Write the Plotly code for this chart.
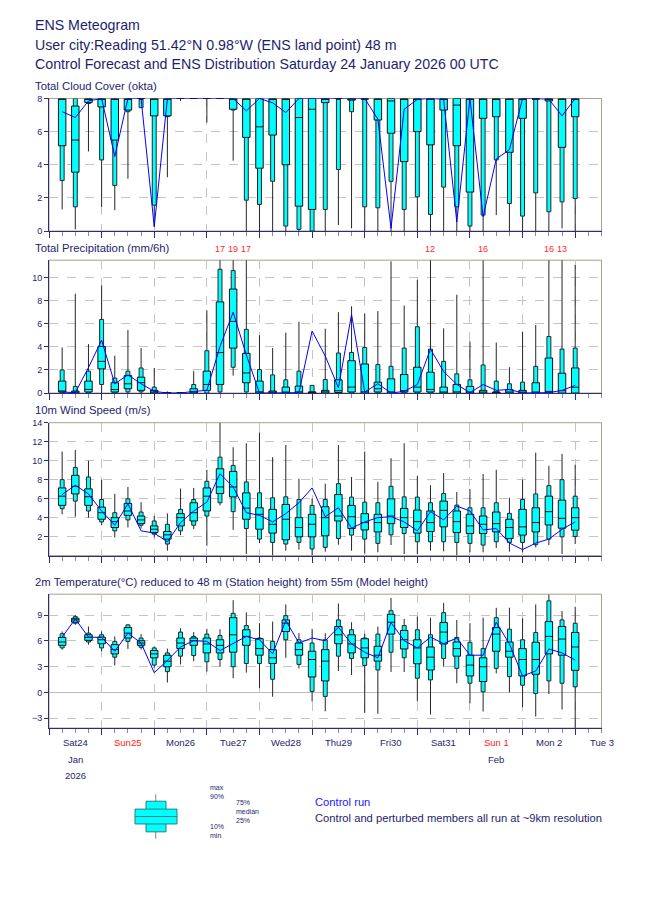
import plotly.graph_objects as go

W, H = 650, 916

# ---------------- DATA ----------------
HOURS = [6 * k for k in range(1, 41)]  # forecast steps (h after Sat 24 Jan 2026 00 UTC)

# Total cloud cover (okta)
CC_MIN = [1.3,0.1,4.8,1.46,1.26,3.15,7.45,0.26,3.25,7.85,8,6.55,8,4.25,0,0,0,0,0,0,
          0,0.36,0.16,0,0,0,0,0,0,0,0,0,0,0.96,0,0,0,0,0.16,0]
CC_P10 = [3.05,1.46,7.7,4.29,2.75,7.2,7.45,1.56,6.9,8,8,8,8,7.3,1.86,1.6,3.0,0.3,0.1,0,
          1.3,3.71,7.2,1.46,1.4,3.0,1.3,2.06,1.0,2.65,1.46,0.3,0.96,4.29,1.66,0.9,2.3,1.16,1.76,1.96]
CC_P25 = [5.15,3.55,7.75,7.49,5.49,7.3,8,6.95,6.95,8,8,8,8,7.35,5.65,3.79,5.79,4.0,1.5,1.3,
          7.75,8,7.9,7.95,6.7,5.9,4.19,6.0,5.2,7.3,5.15,2.35,6.8,6.9,4.75,6.8,7.95,7.85,5.05,6.9]
CC_MED = [8,5.49,8,8,8,8,8,8,8,8,8,8,8,8,8,6.29,8,8,6.85,7.35,
          8,8,8,8,8,7.85,8,8,8,8,7.6,8,8,8,8,8,8,8,8,8]
CC_P75 = [8,7.54,8,8,8,8,8,8,8,8,8,8,8,8,8,8,8,8,8,8,
          8,8,8,8,8,8,8,8,8,8,8,8,8,8,8,8,8,8,8,8]
CC_P90 = [8] * 40
CC_MAX = [8] * 40
CC_CTRL = [7.2,6.85,7.85,8,4.5,8,8,0.26,8,8,8,8,8,8,7.25,8,7.74,7.15,8,8,
           8,8,8,8,6.75,0.16,7.35,7.95,8,7.95,0.55,8,0.86,4.35,4.91,8,8,7.95,6.95,8]

# Total precipitation (mm/6h)
PR_MIN = [0,0,0,0,0,0,0,0,0,0,0,0,0,1.51,0,0,0,0,0,0,
          0,0,0,0,0,0,0,0,0,0,0,0,0,0,0,0,0,0,0,0]
PR_P10 = [0,0,0,0.74,0,0.09,0.1,0,0,0,0,0,0.09,2.23,0.09,0,0,0,0,0,
          0,0,0,0,0,0,0,0,0,0,0,0,0,0,0,0,0,0,0,0]
PR_P25 = [0.09,0,0.09,2.09,0.09,0.37,0.23,0,0,0,0,0.23,0.74,3.89,0.89,0,0,0,0,0,
          0,0.05,0.09,0,0.09,0,0.09,0.09,0.09,0,0,0,0,0,0,0,0,0,0,0]
PR_MED = [0.14,0.05,0.31,2.74,0.3,0.8,0.9,0.05,0,0,0.05,0.74,3.5,6.2,1.74,0.1,0.05,0.05,0.1,0.05,
          0.1,0.2,0.51,0.1,0.37,0.1,0.2,0.51,0.31,0.05,0.1,0.05,0.05,0.03,0.05,0.03,0.05,0.14,0.2,0.5]
PR_P75 = [1.03,0.17,1.03,4.03,0.89,1.51,1.37,0.23,0,0,0.37,1.89,7.89,9.0,3.43,1.03,0.17,0.51,0.6,0.1,
          0.23,1.14,2.8,2.51,0.94,1.23,1.6,2.23,1.8,0.51,0.74,0.57,0.23,0.09,0.29,0.23,0.89,3.03,1.71,2.17]
PR_P90 = [2.0,0.57,1.89,6.37,1.29,1.89,2.17,0.51,0,0,0.74,3.66,10.71,10.6,5.51,2.03,1.57,1.14,1.89,0.66,
          1.17,3.46,3.51,3.94,2.46,2.31,3.89,5.74,3.8,2.74,1.66,1.14,2.43,1.03,0.8,0.94,2.31,4.89,3.8,3.89]
PR_MAX = [3.94,8.6,4.23,9.31,3.23,5.46,3.89,2.17,0.14,0.05,1.89,7.17,17,19,17,5.0,3.89,5.23,6.17,0.7,
          5.57,7.0,7.51,6.89,7.09,11.4,7.57,9.8,12,5.6,8.51,4.46,16,4.37,2.23,5.31,5.89,16,13,11.09]
PR_CTRL = [0.09,0.03,2.2,4.57,0.8,1.57,0.8,0.14,0,0,0.14,0.23,4.03,7.0,3.3,0,0,0,0.03,5.37,
           3.2,0.46,6.8,0.09,0.8,0,0.14,0.74,3.8,1.86,0.74,0.03,0.74,0.23,0.31,0,0,0.03,0.23,0.66]

# 10m wind speed (m/s)
WS_MIN = [4.35,4.1,4.0,3.2,1.91,2.96,2.85,1.91,0.52,2.16,2.78,1.04,5.29,2.71,0.17,1.32,0,0.52,0.63,0,
          0.42,1.15,0.52,0.24,0.35,1.11,0.17,0.17,0.52,0.45,0,0.35,0.35,0.8,0.42,0.35,0.87,1.11,0.17,1.22]
WS_P10 = [4.94,5.74,4.7,3.55,2.61,3.76,3.2,2.26,1.22,2.61,3.2,4.17,5.57,4.63,2.85,1.74,1.39,1.22,1.39,0.7,
          0.87,1.81,2.16,1.74,1.29,2.19,2.33,1.46,1.46,1.46,1.39,1.29,1.11,1.46,1.39,1.39,1.15,1.74,1.98,2.02]
WS_P25 = [5.29,6.5,5.29,3.83,2.96,4.24,3.37,2.43,1.74,3.13,3.65,4.7,6.54,6.19,3.83,2.78,2.37,1.67,1.98,1.98,
          2.09,3.65,2.85,2.71,2.5,3.37,2.96,2.37,2.54,3.03,2.43,2.33,2.33,2.5,1.81,2.16,2.5,3.23,2.89,2.68]
WS_MED = [6.26,7.3,6.2,4.52,3.58,4.7,3.76,2.78,2.19,4.0,4.52,6.26,7.23,7.23,5.0,4.35,3.3,3.83,2.96,3.3,
          4.0,4.17,4.1,3.48,3.48,4.17,4.0,3.58,3.48,4.77,3.58,3.13,3.3,3.37,2.96,3.03,3.48,4.63,3.93,4.0]
WS_P75 = [7.13,8.45,7.03,5.11,4.0,5.5,4.17,3.13,2.54,4.42,5.57,7.13,9.15,8.87,6.61,5.04,4.87,5.39,4.0,4.35,
          5.15,6.43,5.29,4.42,4.35,5.98,4.97,4.8,4.7,5.74,4.7,4.35,4.17,4.59,3.83,4.87,5.04,6.26,5.84,5.04]
WS_P90 = [8.0,9.29,8.28,5.91,4.52,5.98,4.59,3.65,3.3,4.87,5.91,7.83,10.37,9.5,7.76,6.61,6.09,6.19,5.91,5.29,
          5.91,7.58,6.16,5.63,5.57,7.3,6.19,6.16,5.57,6.54,5.32,5.04,5.04,5.57,4.45,5.91,6.5,7.37,8.0,6.26]
WS_MAX = [10.96,11.13,10.0,8.0,6.5,7.23,5.63,4.17,4.45,7.06,7.13,9.04,14.0,11.41,11.83,12.97,10.37,11.65,8.1,6.02,
          7.58,11.65,8.28,10.96,7.76,10.26,11.83,8.42,7.41,8.7,6.71,7.03,8.59,9.04,6.09,8.0,10.85,9.46,10.71,9.57]
WS_CTRL = [6.43,7.41,6.5,4.7,3.2,5.46,2.61,2.37,1.46,3.48,4.7,5.63,8.63,7.23,4.52,4.24,3.55,4.42,5.57,7.13,
           4.1,5.04,2.89,3.55,4.0,4.1,3.55,2.61,4.63,3.76,5.22,4.7,2.71,2.85,1.32,0.63,1.32,1.74,2.78,3.55]

# 2m temperature (deg C)
T_MIN = [4.98,7.86,5.56,4.79,3.14,5.06,4.98,2.88,1.15,3.26,3.64,2.42,2.99,1.65,2.3,0.5,-0.5,4.03,2.8,-1.07,
         -2.19,2.49,2.03,-2.38,-2.49,2.38,2.38,-1.04,-2.57,2.99,1.07,-1.27,-2.22,2.22,0,-1.73,-2.8,-0.19,-1.99,-4.3]
T_P10 = [5.18,8.05,5.87,5.18,4.1,5.94,5.25,3.18,2.42,4.22,4.29,3.57,3.83,2.99,3.37,3.37,1.53,6.13,3.26,0.12,
         -0.46,4.22,3.95,3.14,2.61,4.68,4.03,1.65,1.46,3.95,2.8,1.07,0.08,2.8,1.84,0.84,-0.12,1.34,1.07,0.65]
T_P25 = [5.48,8.17,6.06,5.67,4.49,6.33,5.48,4.03,2.99,5.1,5.48,4.6,4.6,4.68,5.48,4.33,3.37,7.09,4.33,1.8,
         1.34,5.67,4.6,4.03,3.64,6.79,5.06,3.34,2.61,5.64,4.22,1.92,1.27,4.79,4.1,1.92,2.11,4.49,4.33,2.57]
T_MED = [5.87,8.44,6.4,6.13,4.98,6.9,5.75,4.49,3.64,5.75,6.02,5.64,5.48,6.71,6.52,5.1,4.03,8.05,4.98,3.83,
         3.64,6.71,5.64,5.18,4.33,8.17,6.13,5.18,4.1,7.02,5.1,3.18,2.99,6.79,4.79,3.83,3.83,6.52,6.21,5.29]
T_P75 = [6.4,8.63,6.71,6.44,5.56,7.55,6.02,4.87,4.33,6.33,6.33,6.33,6.13,8.7,7.29,6.25,4.98,8.44,5.75,4.79,
         4.98,7.67,6.71,6.25,5.37,9.09,7.21,6.13,5.29,8.13,5.87,4.33,4.03,7.55,5.87,5.1,5.83,8.24,7.67,6.98]
T_P90 = [6.83,8.82,6.9,6.71,5.94,7.86,6.33,5.18,4.6,7.02,6.52,6.79,6.63,9.2,7.78,6.33,5.94,8.93,6.13,5.75,
         6.13,8.44,7.29,6.33,6.79,9.51,7.78,7.29,6.71,9.28,6.4,5.83,5.1,8.7,7.36,6.13,6.98,10.66,8.44,8.05]
T_MAX = [7.09,9.01,7.67,7.09,6.52,7.94,6.79,5.37,5.1,7.48,7.02,7.4,7.36,10.74,9.32,8.05,8.24,10.24,6.9,7.4,
         6.9,10.35,8.17,6.83,7.67,11.0,8.55,8.82,8.7,10.43,8.44,8.05,8.7,9.85,9.85,8.63,10.24,11.4,9.47,9.97]
T_CTRL = [6.44,8.55,6.44,6.4,4.79,6.9,5.75,2.3,3.72,5.29,6.02,5.94,4.87,5.71,6.52,6.13,4.49,8.36,5.75,6.33,
          6.02,7.59,5.64,4.68,4.03,8.13,6.02,5.18,6.44,5.67,6.33,4.33,4.33,8.17,5.64,1.92,2.49,5.06,4.6,3.76]

DAY_LABELS = ["Sat24", "Sun25", "Mon26", "Tue27", "Wed28", "Thu29", "Fri30", "Sat31", "Sun 1", "Mon 2", "Tue 3"]
SUNDAYS = ["Sun25", "Sun 1"]
MONTH_LABELS = {"Sat24": ["Jan", "2026"], "Sun 1": ["Feb"]}

PANEL_TITLES = [
    "Total Cloud Cover (okta)",
    "Total Precipitation (mm/6h)",
    "10m Wind Speed (m/s)",
    "2m Temperature(\u00b0C) reduced to 48 m (Station height) from 55m (Model height)",
]
PRECIP_TOP = 11.5

# ---------------- STYLE / LAYOUT ----------------
NAVY = "#1e1e6e"
AXIS = "#2c2c7a"
GRID = "#c4c4c4"
FRAME = "#a89f90"
CYAN = "#00ffff"
FONT = "Liberation Sans, Arial, sans-serif"

def px_x(p):
    return p / W

def px_y(p):
    return 1 - p / H

X_PX = (49, 601.5)
PANELS_PX = [(94.5, 228.5), (258, 392.3), (422.3, 556.7), (595.7, 731)]
Y_RANGES = [[0, 8], [0, PRECIP_TOP], [0, 14], [-4.14, 11.43]]
Y_TICKS = [[0, 2, 4, 6, 8], [0, 2, 4, 6, 8, 10], [2, 4, 6, 8, 10, 12, 14], [-3, 0, 3, 6, 9]]

SERIES = [
    (CC_MIN, CC_P10, CC_P25, CC_MED, CC_P75, CC_P90, CC_MAX, CC_CTRL),
    (PR_MIN, PR_P10, PR_P25, PR_MED, PR_P75, PR_P90, PR_MAX, PR_CTRL),
    (WS_MIN, WS_P10, WS_P25, WS_MED, WS_P75, WS_P90, WS_MAX, WS_CTRL),
    (T_MIN, T_P10, T_P25, T_MED, T_P75, T_P90, T_MAX, T_CTRL),
]

fig = go.Figure()
annotations = []
shapes = []

for i, (mn, p10, p25, med, p75, p90, mx, ctrl) in enumerate(SERIES):
    n = "" if i == 0 else str(i + 1)
    xa, ya = "x" + n, "y" + n
    # thin box: 10-90 % with whiskers min-max
    fig.add_trace(go.Box(
        x=HOURS, q1=p10, q3=p90, median=med, lowerfence=mn, upperfence=mx,
        width=1.8, whiskerwidth=0, fillcolor=CYAN,
        line=dict(color="#262626", width=1), boxpoints=False,
        xaxis=xa, yaxis=ya, showlegend=False, hoverinfo="skip"))
    # wide box: 25-75 % with median
    fig.add_trace(go.Box(
        x=HOURS, q1=p25, q3=p75, median=med, lowerfence=p25, upperfence=p75,
        width=3.4, whiskerwidth=0, fillcolor=CYAN,
        line=dict(color="#111111", width=1), boxpoints=False,
        xaxis=xa, yaxis=ya, showlegend=False, hoverinfo="skip"))
    # control run
    fig.add_trace(go.Scatter(
        x=HOURS, y=ctrl, mode="lines", line=dict(color="#0000ff", width=1),
        xaxis=xa, yaxis=ya, showlegend=False, hoverinfo="skip"))

    top, bot = PANELS_PX[i]
    fig.update_layout(**{
        ("xaxis" + n): dict(
            domain=[px_x(X_PX[0]), px_x(X_PX[1])], anchor=ya, range=[0, 252],
            tickmode="linear", tick0=0, dtick=24, ticks="outside", ticklen=6,
            tickcolor=AXIS, showticklabels=False,
            showgrid=True, gridcolor=GRID, griddash="dash", gridwidth=1,
            showline=True, linecolor=AXIS, linewidth=1, zeroline=False,
            minor=dict(tick0=0, dtick=6, ticks="outside", ticklen=4,
                       tickcolor="#8a8aa8", showgrid=False),
        ),
        ("yaxis" + n): dict(
            domain=[px_y(bot), px_y(top)], anchor=xa, range=Y_RANGES[i],
            tickmode="array", tickvals=Y_TICKS[i], ticks="outside", ticklen=4,
            tickcolor=AXIS, tickfont=dict(size=9, color=NAVY, family=FONT),
            showgrid=True, gridcolor=GRID, griddash="dash", gridwidth=1,
            showline=True, linecolor=AXIS, linewidth=1,
            zeroline=(i == 3), zerolinecolor="#bdbdbd", zerolinewidth=1,
        ),
    })
    shapes.append(dict(type="rect", xref=xa + " domain", yref=ya + " domain",
                       x0=0, x1=1, y0=0, y1=1, line=dict(color=FRAME, width=1),
                       layer="below"))
    # panel title
    annotations.append(dict(text=PANEL_TITLES[i], xref="paper", yref="paper",
                            x=px_x(33), y=px_y(top - 12.5), xanchor="left", yanchor="middle",
                            showarrow=False, font=dict(size=11.3, color=NAVY, family=FONT)))

# red labels for precipitation maxima beyond the axis top
for h, v in zip(HOURS, PR_MAX):
    if v > PRECIP_TOP:
        annotations.append(dict(text=f"{v:g}", xref="x2", yref="paper", x=h, y=px_y(247),
                                xanchor="center", yanchor="middle", showarrow=False,
                                font=dict(size=9, color="#ff2a2a", family=FONT)))

# header
for txt, yy in [("ENS Meteogram", 20.5),
                ("User city:Reading 51.42\u00b0N 0.98\u00b0W (ENS land point) 48 m", 40.5),
                ("Control Forecast and ENS Distribution Saturday 24 January 2026 00 UTC", 59.5)]:
    annotations.append(dict(text=txt, xref="paper", yref="paper", x=px_x(33), y=px_y(yy),
                            xanchor="left", yanchor="middle", showarrow=False,
                            font=dict(size=14.2, color=NAVY, family=FONT)))

# day labels (centred at noon of each day)
for d, lab in enumerate(DAY_LABELS):
    col = "#ff2020" if lab in SUNDAYS else NAVY
    annotations.append(dict(text=lab, xref="x4", yref="paper", x=24 * d + 12, y=px_y(746),
                            xanchor="center", yanchor="middle", showarrow=False,
                            font=dict(size=9.5, color=col, family=FONT)))
    for k, sub in enumerate(MONTH_LABELS.get(lab, [])):
        annotations.append(dict(text=sub, xref="x4", yref="paper", x=24 * d + 12,
                                y=px_y(763 + 16 * k), xanchor="center", yanchor="middle",
                                showarrow=False, font=dict(size=9.5, color=NAVY, family=FONT)))

# legend glyph (box-plot key)
shapes += [
    dict(type="line", xref="paper", yref="paper", x0=px_x(155.7), x1=px_x(155.7),
         y0=px_y(798), y1=px_y(843), line=dict(color="#9a9a9a", width=1.2)),
    dict(type="rect", xref="paper", yref="paper", x0=px_x(146), x1=px_x(166),
         y0=px_y(836), y1=px_y(805), fillcolor=CYAN, line=dict(color="#2a7f7f", width=1)),
    dict(type="rect", xref="paper", yref="paper", x0=px_x(135), x1=px_x(177),
         y0=px_y(828), y1=px_y(813), fillcolor=CYAN, line=dict(color="#2a7f7f", width=1)),
    dict(type="line", xref="paper", yref="paper", x0=px_x(135), x1=px_x(177),
         y0=px_y(820.5), y1=px_y(820.5), line=dict(color="#2a7f7f", width=1)),
]
for txt, xx, yy in [("max<br>90%", 208, 796), ("75%<br>median<br>25%", 234, 815.5),
                    ("10%<br>min", 208, 835)]:
    annotations.append(dict(text=txt, xref="paper", yref="paper", x=px_x(xx), y=px_y(yy),
                            xanchor="left", yanchor="middle", align="left", showarrow=False,
                            font=dict(size=7, color=NAVY, family=FONT)))
annotations.append(dict(text="Control run", xref="paper", yref="paper", x=px_x(313), y=px_y(805.5),
                        xanchor="left", yanchor="middle", showarrow=False,
                        font=dict(size=11.2, color="#2020ff", family=FONT)))
annotations.append(dict(text="Control and perturbed members all run at ~9km resolution",
                        xref="paper", yref="paper", x=px_x(313), y=px_y(822),
                        xanchor="left", yanchor="middle", showarrow=False,
                        font=dict(size=11.2, color=NAVY, family=FONT)))

fig.update_layout(
    width=W, height=H, margin=dict(l=0, r=0, t=0, b=0),
    paper_bgcolor="white", plot_bgcolor="white",
    boxmode="overlay", showlegend=False,
    annotations=annotations, shapes=shapes,
    font=dict(family=FONT, color=NAVY),
)

fig.write_html("out.html", config={"displayModeBar": False},
               post_script="document.body.style.margin='0px';document.body.style.padding='0px';")
